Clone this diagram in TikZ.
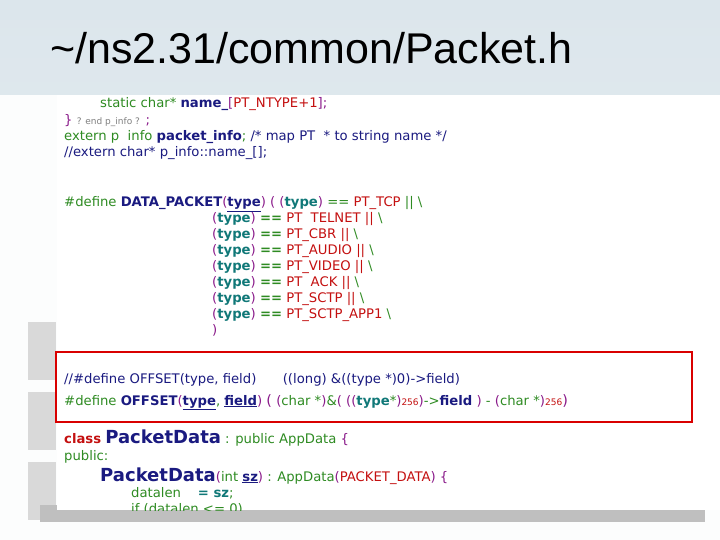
\documentclass[tikz,border=0pt]{standalone}
\usepackage{fontspec}
\setmainfont{Liberation Sans}
\newfontfamily\codefont{DejaVu Sans}
\usetikzlibrary{positioning}
\definecolor{kwgreen}{HTML}{2E8B22}
\definecolor{kwnavy}{HTML}{1A1A80}
\definecolor{kwred}{HTML}{C41010}
\definecolor{kwteal}{HTML}{107878}
\definecolor{kwpurple}{HTML}{8A1A8A}
\definecolor{slidebg}{HTML}{DCE6EC}
\newcommand{\G}[1]{\textcolor{kwgreen}{#1}}
\newcommand{\N}[1]{\textcolor{kwnavy}{\bfseries #1}}
\newcommand{\R}[1]{\textcolor{kwred}{#1}}
\newcommand{\T}[1]{\textcolor{kwteal}{\bfseries #1}}
\newcommand{\Pu}[1]{\textcolor{kwpurple}{#1}}
\tikzset{
  codeline/.style={anchor=base west, inner sep=0pt, font=\codefont\fontsize{13.2}{15}\selectfont},
}
\begin{document}
\begin{tikzpicture}[x=1pt, y=-1pt]
	% Slide background
	\useasboundingbox (0,0) rectangle (720,540);
	\shade[top color=slidebg, bottom color=slidebg!60!white] (0,0) rectangle (720,540);
	\fill[white!92!slidebg] (0,95) rectangle (720,540);
	% Side tabs and shadow
	\foreach \ty in {322,392,462}
		\fill[gray!30] (28,\ty) rectangle (56,\ty+58);
	\fill[gray!50] (40,505) rectangle (705,522);
	% Title
	\node[anchor=base west, inner sep=0pt, font=\fontsize{43}{48}\selectfont] (title) at (50,64) {\textasciitilde/ns2.31/common/Packet.h};
	% Code panel
	\fill[white] (57,95) rectangle (720,510);
	\begin{scope}
	\clip (57,95) rectangle (720,510);
	\node[codeline] (l1) at (100,108) {\G{static char*} \N{name\_}\Pu{[}\R{PT\_NTYPE+1}\Pu{];}};
	\node[codeline] (l2) at (64,125) {\Pu{\}} \textcolor{gray}{\small ? end p\_info ?} \Pu{;}};
	\node[codeline] (l3) at (64,141) {\G{extern p\ \ info} \N{packet\_info}\G{;} \textcolor{kwnavy}{/* map PT\ \ * to string name */}};
	\node[codeline] (l4) at (64,157) {\textcolor{kwnavy}{//extern char* p\_info::name\_[];}};
	\node[codeline] (l5) at (64,207) {\G{\#define} \N{DATA\_PACKET}\Pu{(}\N{\underline{type}}\Pu{)} \Pu{(} \Pu{(}\T{type}\Pu{)} \G{==} \R{PT\_TCP} \G{|| \textbackslash}};
	\foreach \lbl [count=\i] in {PT\ \ TELNET ||,PT\_CBR ||,PT\_AUDIO ||,PT\_VIDEO ||,PT\ \ ACK ||,PT\_SCTP ||,PT\_SCTP\_APP1}
		\node[codeline] (d\i) at (212,207+\i*15.9) {\Pu{(}\T{type}\Pu{)} \G{\bfseries ==} \R{\lbl} \G{\textbackslash}};
	\node[codeline] (dend) at (212,334) {\Pu{)}};
	\node[codeline] (o1) at (64,383) {\textcolor{kwnavy}{//\#define OFFSET(type, field)\qquad ((long) \&((type *)0)->field)}};
	\node[codeline] (o2) at (64,405) {\G{\#define} \N{OFFSET}\Pu{(}\N{\underline{type}}\G{,} \N{\underline{field}}\Pu{)} \Pu{\Large(} \Pu{(}\G{char *}\Pu{)}\G{\&}\Pu{(} \Pu{((}\T{type}\G{ *}\Pu{)}\R{\small 256}\Pu{)}\G{->}\N{field} \Pu{)} \G{-} \Pu{(}\G{char *}\Pu{)}\R{\small 256}\Pu{\Large)}};
	\node[codeline] (c1) at (64,443) {\R{\bfseries class} \N{\fontsize{18}{20}\selectfont PacketData} \G{: public AppData} \Pu{\{}};
	\node[codeline] (c2) at (64,460) {\G{public:}};
	\node[codeline] (c3) at (100,481) {\N{\fontsize{18}{20}\selectfont PacketData}\Pu{(}\G{int} \N{\underline{sz}}\Pu{)} \G{: AppData}\Pu{(}\R{PACKET\_DATA}\Pu{)} \Pu{\{}};
	\node[codeline] (c4) at (131,497) {\G{datalen\ \ \ } \T{= sz}\G{;}};
	\node[codeline] (c5) at (131,513) {\G{if (datalen <= 0)}};
	\end{scope}
	% Highlight box
	\draw[red!85!black, line width=2pt] (56,352) rectangle (692,422);
\end{tikzpicture}
\end{document}
